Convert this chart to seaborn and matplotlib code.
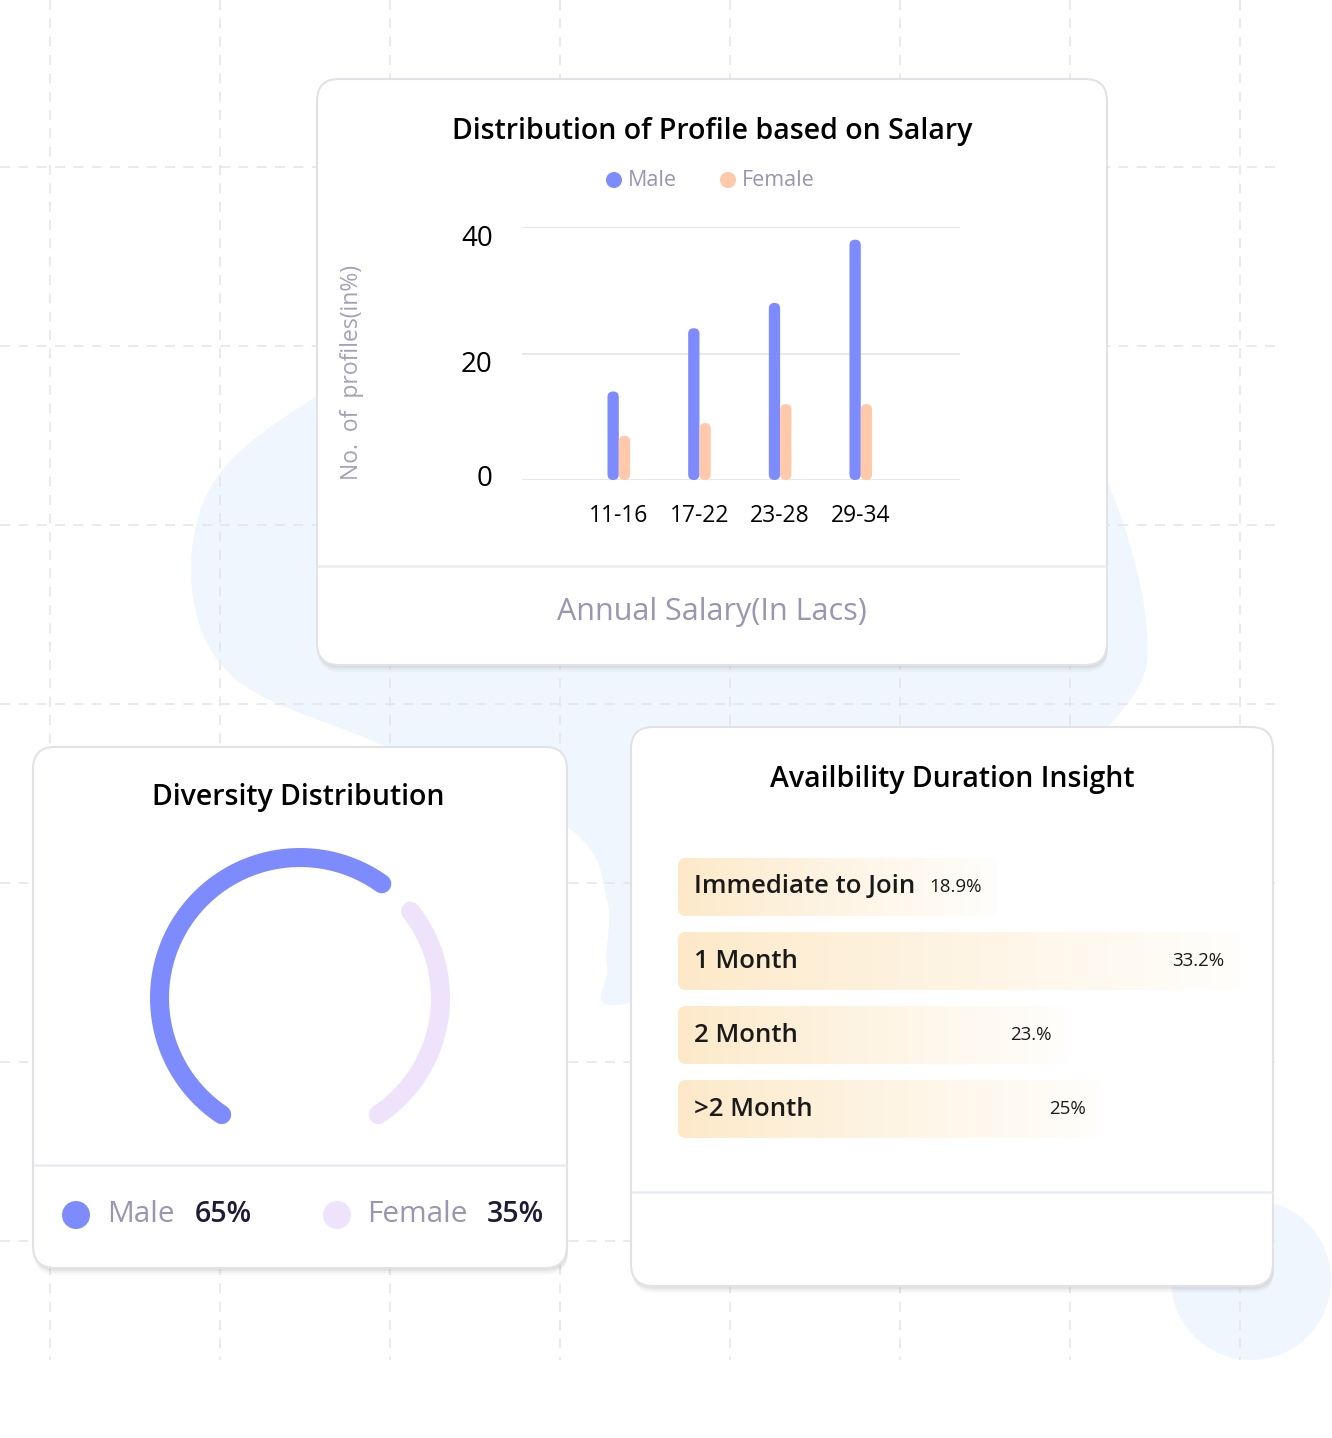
""" Hiring insights dashboard: salary bars, diversity gauge, availability bars """

import matplotlib
matplotlib.use("Agg")
import matplotlib.pyplot as plt
import matplotlib.transforms as mtransforms
import numpy as np
import pandas as pd
import seaborn as sns
from matplotlib.patches import Circle, FancyBboxPatch, Polygon

# salary distribution (values in %)
salary_bands = ["11-16", "17-22", "23-28", "29-34"]
male_profiles = [14, 24, 28, 38]
female_profiles = [7, 9, 12, 12]
salary_ticks = [0, 20, 40]

# diversity split
gender_labels = ["Male", "Female"]
gender_share = [65, 35]

# availability duration
availability_labels = ["Immediate to Join", "1 Month", "2 Month", ">2 Month"]
availability_values = [18.9, 33.2, 23, 25]
availability_text = ["18.9%", "33.2%", "23.%", "25%"]

BLUE = "#7e8bfc"
PEACH = "#ffc9aa"
LAVENDER = "#efe3fb"
GREY_TEXT = "#9896b0"
DARK_TEXT = "#1d1b36"

W, H = 1332, 1438

sns.set_theme(style="white")
plt.rcParams["font.family"] = ["Open Sans", "DejaVu Sans"]

fig = plt.figure(figsize=(W / 100, H / 100), dpi=100)
fig.patch.set_facecolor("white")


def frac(x0, y0, x1, y1):
    """ pixel box (top-left origin) -> figure fraction rect """
    return [x0 / W, 1 - y1 / H, (x1 - x0) / W, (y1 - y0) / H]


# background canvas in pixel coordinates
bg = fig.add_axes([0, 0, 1, 1])
bg.set_xlim(0, W)
bg.set_ylim(H, 0)
bg.axis("off")

# soft blue blob behind the cards
blob_pts = np.array([
    (192, 590), (215, 480), (317, 396), (450, 330), (700, 300), (950, 340),
    (1080, 430), (1146, 620), (1108, 727), (900, 900), (629, 1003),
    (607, 967), (607, 900), (567, 827), (382, 745), (238, 681),
])


def catmull_rom(pts, n=30):
    out = []
    k = len(pts)
    for i in range(k):
        p0, p1, p2, p3 = pts[i - 1], pts[i], pts[(i + 1) % k], pts[(i + 2) % k]
        for t in np.linspace(0, 1, n, endpoint=False):
            t2, t3 = t * t, t * t * t
            out.append(0.5 * ((2 * p1) + (-p0 + p2) * t
                              + (2 * p0 - 5 * p1 + 4 * p2 - p3) * t2
                              + (-p0 + 3 * p1 - 3 * p2 + p3) * t3))
    return np.array(out)


bg.add_patch(Polygon(catmull_rom(blob_pts), closed=True, fc="#f0f6fe", ec="none", zorder=0))
bg.add_patch(Circle((1251, 1280), 80, fc="#f0f6fe", ec="none", zorder=0))

# dashed background grid
for gx in range(50, 1300, 170):
    bg.plot([gx, gx], [0, 1360], color="#e6e6ea", lw=1.2, ls=(0, (6, 5)), zorder=1)
for gy in [167, 346, 525, 704, 883, 1062, 1241]:
    bg.plot([0, 1275], [gy, gy], color="#e6e6ea", lw=1.2, ls=(0, (6, 5)), zorder=1)


def card(x0, y0, x1, y1, sep_y):
    """ white rounded card with a soft shadow and a separator line """
    w, h = x1 - x0, y1 - y0
    for off, alpha in [(7, 0.05), (5, 0.08), (3, 0.12)]:
        bg.add_patch(FancyBboxPatch((x0 + 1, y0 + off), w, h,
                                    boxstyle="round,pad=0,rounding_size=22",
                                    fc="#8a8a8a", ec="none", alpha=alpha, zorder=2))
    bg.add_patch(FancyBboxPatch((x0, y0), w, h, boxstyle="round,pad=0,rounding_size=22",
                                fc="white", ec="#e2e2e6", lw=1.5, zorder=3))
    bg.plot([x0 + 1, x1 - 1], [sep_y, sep_y], color="#e8ecf2", lw=1.8, zorder=4)


card(317, 79, 1107, 665, 566)
card(33, 747, 567, 1268, 1165)
card(631, 727, 1273, 1286, 1192)

TITLE_SIZE = 20.5
TITLE_WEIGHT = "semibold"

# ---- salary card ----
bg.text(712, 131, "Distribution of Profile based on Salary", ha="center", va="center",
        fontsize=TITLE_SIZE, fontweight=TITLE_WEIGHT, color="black", zorder=5)
bg.add_patch(Circle((614, 180), 8, fc=BLUE, ec="none", zorder=5))
bg.text(628, 180, "Male", ha="left", va="center", fontsize=15.5, color=GREY_TEXT, zorder=5)
bg.add_patch(Circle((728, 180), 8, fc=PEACH, ec="none", zorder=5))
bg.text(742, 180, "Female", ha="left", va="center", fontsize=15.5, color=GREY_TEXT, zorder=5)
bg.text(352, 372, "No.  of  profiles(in%)", rotation=90, ha="center", va="center",
        fontsize=16.5, color="#a3a1b9", zorder=5)
bg.text(712, 612, "Annual Salary(In Lacs)", ha="center", va="center",
        fontsize=22, color=GREY_TEXT, zorder=5)

ax1 = fig.add_axes(frac(522, 227, 960, 480))
ax1.set_facecolor("none")
df_salary = pd.DataFrame({
    "band": salary_bands * 2,
    "gender": ["Male"] * len(salary_bands) + ["Female"] * len(salary_bands),
    "value": male_profiles + female_profiles,
})
sns.barplot(data=df_salary, x="band", y="value", hue="gender", order=salary_bands,
            hue_order=gender_labels, palette={"Male": BLUE, "Female": PEACH},
            width=0.28, saturation=1, legend=False, ax=ax1)
ax1.set_xlim(-1.2, 4.23)
ax1.set_ylim(0, 40)
ax1.set_yticks(salary_ticks)
ax1.set_xlabel("")
ax1.set_ylabel("")
for s in ax1.spines.values():
    s.set_visible(False)
ax1.grid(axis="y", color="#e4e4e8", lw=1.2)
ax1.set_axisbelow(True)
ax1.tick_params(axis="y", length=0, pad=21, labelsize=20, labelcolor="black")
ax1.tick_params(axis="x", length=0, pad=17, labelsize=16.5, labelcolor="black")
# the tick numbers sit a little off their grid lines in the original
for lab, dy in zip(ax1.get_yticklabels(), [5, -8, -8]):
    lab.set_transform(lab.get_transform()
                      + mtransforms.ScaledTranslation(0, dy / 100, fig.dpi_scale_trans))

# round the bar ends
xpu = (4.23 + 1.2) / 438
ypu = 40 / 253
for i, p in enumerate(list(ax1.patches)):
    x, y, w, h = p.get_x(), p.get_y(), p.get_width(), p.get_height()
    fc = p.get_facecolor()
    p.remove()
    ax1.add_patch(FancyBboxPatch((x, y), w, h,
                                 boxstyle=f"round,pad=0,rounding_size={w / 2}",
                                 mutation_aspect=ypu / xpu, fc=fc, ec="none",
                                 zorder=3 + i // len(salary_bands)))

# ---- diversity card ----
bg.text(298, 797, "Diversity Distribution", ha="center", va="center",
        fontsize=TITLE_SIZE, fontweight=TITLE_WEIGHT, color="black", zorder=5)

ax2 = fig.add_axes(frac(140, 838, 460, 1158))
ax2.set_xlim(-160, 160)
ax2.set_ylim(-160, 160)
ax2.axis("off")
ring_r = 140.5
start, end, gap = 240.0, -60.0, 8.5
cap = np.degrees(9.5 / ring_r)
usable = (start - end) - gap
a0 = start
for share, col in zip(gender_share, [BLUE, LAVENDER]):
    span = usable * share / sum(gender_share)
    th = np.radians(np.linspace(a0 - cap, a0 - span + cap, 200))
    ax2.plot(ring_r * np.cos(th), ring_r * np.sin(th), color=col, lw=13.7,
             solid_capstyle="round")
    a0 -= span + gap

legend_x = [(76, 107, 195), (337, 367, 487)]
for (cx, tx, vx), lab, share, col in zip(legend_x, gender_labels, gender_share, [BLUE, LAVENDER]):
    bg.add_patch(Circle((cx, 1215), 14, fc=col, ec="none", zorder=5))
    bg.text(tx, 1215, lab, ha="left", va="center", fontsize=21.5, color=GREY_TEXT, zorder=5)
    bg.text(vx, 1215, f"{share}%", ha="left", va="center", fontsize=20.5,
            color=DARK_TEXT, fontweight="semibold", zorder=5)

# ---- availability card ----
bg.text(952, 779, "Availbility Duration Insight", ha="center", va="center",
        fontsize=TITLE_SIZE, fontweight=TITLE_WEIGHT, color="black", zorder=5)

ax3 = fig.add_axes(frac(678, 850, 1248, 1146))
ax3.set_facecolor("none")
sns.barplot(x=availability_values, y=availability_labels, orient="h", width=58 / 74,
            color="#fde9c8", saturation=1, ax=ax3)
xmax = 570 / 16.94
ax3.set_xlim(0, xmax)
ax3.set_ylim(3.5, -0.5)
ax3.axis("off")

bx_pu = xmax / 570
by_pu = 1 / 74
grad = np.ones((1, 256, 4))
left_rgb = np.array([253, 233, 200]) / 255
right_rgb = np.array([255, 254, 252]) / 255
tt = np.linspace(0, 1, 256) ** 0.9
grad[0, :, :3] = left_rgb[None, :] * (1 - tt[:, None]) + right_rgb[None, :] * tt[:, None]

for i, p in enumerate(list(ax3.patches)):
    x, y, w, h = p.get_x(), p.get_y(), p.get_width(), p.get_height()
    p.remove()
    shape = FancyBboxPatch((x, y), w, h, boxstyle=f"round,pad=0,rounding_size={8 * bx_pu}",
                           mutation_aspect=by_pu / bx_pu, fc="none", ec="none")
    ax3.add_patch(shape)
    im = ax3.imshow(grad, extent=[x, x + w, y + h, y], aspect="auto",
                    interpolation="bilinear", zorder=2)
    im.set_clip_path(shape)
    yc = y + h / 2
    ax3.text(16 * bx_pu, yc, availability_labels[i], ha="left", va="center",
             fontsize=18.5, fontweight="semibold", color="#1a1a1a", zorder=3)
    ax3.text(x + w - 16 * bx_pu, yc, availability_text[i], ha="right", va="center",
             fontsize=13.5, color="#1a1a1a", zorder=3)
ax3.set_xlim(0, xmax)
ax3.set_ylim(3.5, -0.5)

fig.savefig("out.png", dpi=100, facecolor="white")
